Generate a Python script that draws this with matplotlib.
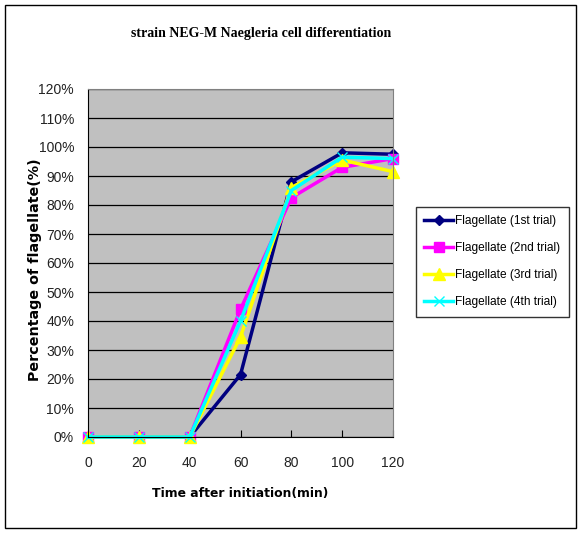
import matplotlib
matplotlib.use("Agg")
import matplotlib.pyplot as plt
from matplotlib.patches import Rectangle
from matplotlib.ticker import FuncFormatter

# data
time_min = [0, 20, 40, 60, 80, 100, 120]
trial_1 = [0, 0, 0, 21.5, 88, 98, 97.5]
trial_2 = [0, 0, 0, 44, 82.5, 93, 96]
trial_3 = [0, 0, 0, 34.5, 86, 95.5, 91.5]
trial_4 = [0, 0, 0, 40, 85, 96.5, 96]
labels = ["Flagellate (1st trial)", "Flagellate (2nd trial)",
          "Flagellate (3rd trial)", "Flagellate (4th trial)"]
y_ticks = list(range(0, 121, 10))

fig = plt.figure(figsize=(5.82, 5.36), dpi=100)
fig.patch.set_facecolor("white")

# outer chart border
fig.patches.append(Rectangle((5 / 582, 1 - 528 / 536), 571 / 582, 523 / 536,
                             transform=fig.transFigure, fill=False,
                             edgecolor="black", linewidth=1))

ax = fig.add_axes([88 / 582, 1 - 437 / 536, 305 / 582, 348 / 536])
ax.set_facecolor("#C0C0C0")

styles = [
    dict(color="#000080", marker="D", markersize=5),
    dict(color="#FF00FF", marker="s", markersize=7),
    dict(color="#FFFF00", marker="^", markersize=8),
    dict(color="#00FFFF", marker="x", markersize=7, markeredgewidth=1),
]
for vals, lab, st in zip([trial_1, trial_2, trial_3, trial_4], labels, styles):
    ax.plot(time_min, vals, linewidth=2.5, label=lab, clip_on=False, **st)

ax.set_xlim(0, 120)
ax.set_ylim(0, 120)
ax.set_xticks(time_min)
ax.set_yticks(y_ticks)
ax.yaxis.set_major_formatter(FuncFormatter(lambda v, p: f"{int(v)}%"))
ax.grid(axis="y", color="black", linewidth=0.9)
ax.set_axisbelow(True)

for s in ["top", "right"]:
    ax.spines[s].set_color("#808080")
for s in ["left", "bottom"]:
    ax.spines[s].set_color("black")
ax.tick_params(axis="x", direction="in", length=5, pad=14,
               labelsize=10, labelfontfamily="Liberation Sans")
ax.tick_params(axis="y", length=0, pad=10,
               labelsize=10, labelfontfamily="Liberation Sans")
for t in ax.get_xticklabels() + ax.get_yticklabels():
    t.set_color("#222222")

ax.set_xlabel("Time after initiation(min)", fontsize=8.9, fontweight="bold",
              labelpad=12)
ax.set_ylabel("Percentage of flagellate(%)", fontsize=10.3, fontweight="bold")
ax.yaxis.set_label_coords(-46 / 305, 0.48)

fig.text(261 / 582, 1 - 33 / 536, "strain NEG-M Naegleria cell differentiation",
         ha="center", va="center", fontsize=10, fontweight="bold",
         family="Liberation Serif")

leg = ax.legend(loc="upper left", bbox_to_anchor=(416 / 582, 1 - 207 / 536),
                bbox_transform=fig.transFigure, frameon=True, fancybox=False,
                edgecolor="black", prop={"family": "Liberation Sans", "size": 8.6},
                handlelength=2.4, handletextpad=0.2, borderpad=0.7,
                labelspacing=1.25, borderaxespad=0)
leg.get_frame().set_linewidth(1)

fig.savefig("out.png", dpi=100)
